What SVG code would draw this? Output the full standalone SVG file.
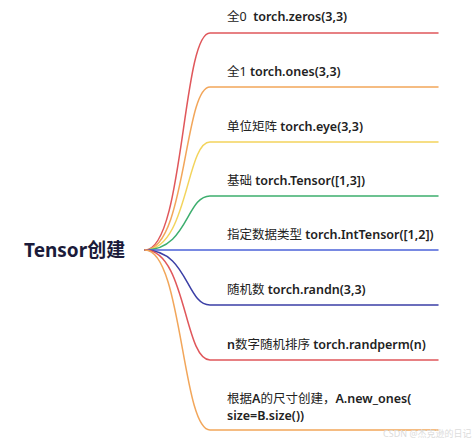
<svg xmlns="http://www.w3.org/2000/svg" width="474" height="440" viewBox="0 0 474 440">
<style>
.ln{fill:none;stroke-width:1.5;stroke-linecap:round}
.lb{font-family:"Noto Sans","Noto Sans CJK SC",sans-serif;font-size:12.5px;fill:#222}
.en{font-weight:600}
.root{font-family:"Noto Sans","Noto Sans CJK SC",sans-serif;font-size:19px;font-weight:700;fill:#1b1b3a}
</style>
<rect width="474" height="440" fill="#fff"/>
<g id="connectors">
<path class="ln" stroke="#e0575b" d="M145,250 C184,250 182,33 210,33 L438,33"/>
<path class="ln" stroke="#f2a65a" d="M145,250 C186,250 184,87 210,87 L438,87"/>
<path class="ln" stroke="#f3d45c" d="M145,250 C188,250 186,142 210,142 L438,142"/>
<path class="ln" stroke="#3dae6e" d="M145,250 C188,250 186,196 210,196 L438,196"/>
<path class="ln" stroke="#4c63d9" d="M145,250 L438,250"/>
<path class="ln" stroke="#3b3fa6" d="M145,250 C188,250 186,305 210,305 L438,305"/>
<path class="ln" stroke="#e0575b" d="M145,250 C186,250 184,360 210,360 L438,360"/>
<path class="ln" stroke="#f2a65a" d="M145,250 C182,250 182,430 210,430 L438,430"/>
</g>
<g id="root"><text class="root" x="24" y="257">Tensor创建</text></g>
<g id="n1"><text class="lb" x="227" y="21">全0&#160; <tspan class="en">torch.zeros(3,3)</tspan></text></g>
<g id="n2"><text class="lb" x="227" y="76">全1 <tspan class="en">torch.ones(3,3)</tspan></text></g>
<g id="n3"><text class="lb" x="227" y="131">单位矩阵 <tspan class="en">torch.eye(3,3)</tspan></text></g>
<g id="n4"><text class="lb" x="227" y="185">基础 <tspan class="en">torch.Tensor([1,3])</tspan></text></g>
<g id="n5"><text class="lb" x="227" y="239">指定数据类型 <tspan class="en">torch.IntTensor([1,2])</tspan></text></g>
<g id="n6"><text class="lb" x="227" y="294">随机数 <tspan class="en">torch.randn(3,3)</tspan></text></g>
<g id="n7"><text class="lb" x="227" y="349"><tspan class="en">n</tspan>数字随机排序 <tspan class="en">torch.randperm(n)</tspan></text></g>
<g id="n8"><text class="lb" x="227" y="403">根据<tspan class="en">A</tspan>的尺寸创建，<tspan class="en">A.new_ones(</tspan></text><text class="lb en" x="227" y="420">size=B.size())</text></g>
<text x="383" y="437" font-family="'Noto Sans','Noto Sans CJK SC',sans-serif" font-size="9" fill="#dcdcdc">CSDN @杰克逊的日记</text>
</svg>
